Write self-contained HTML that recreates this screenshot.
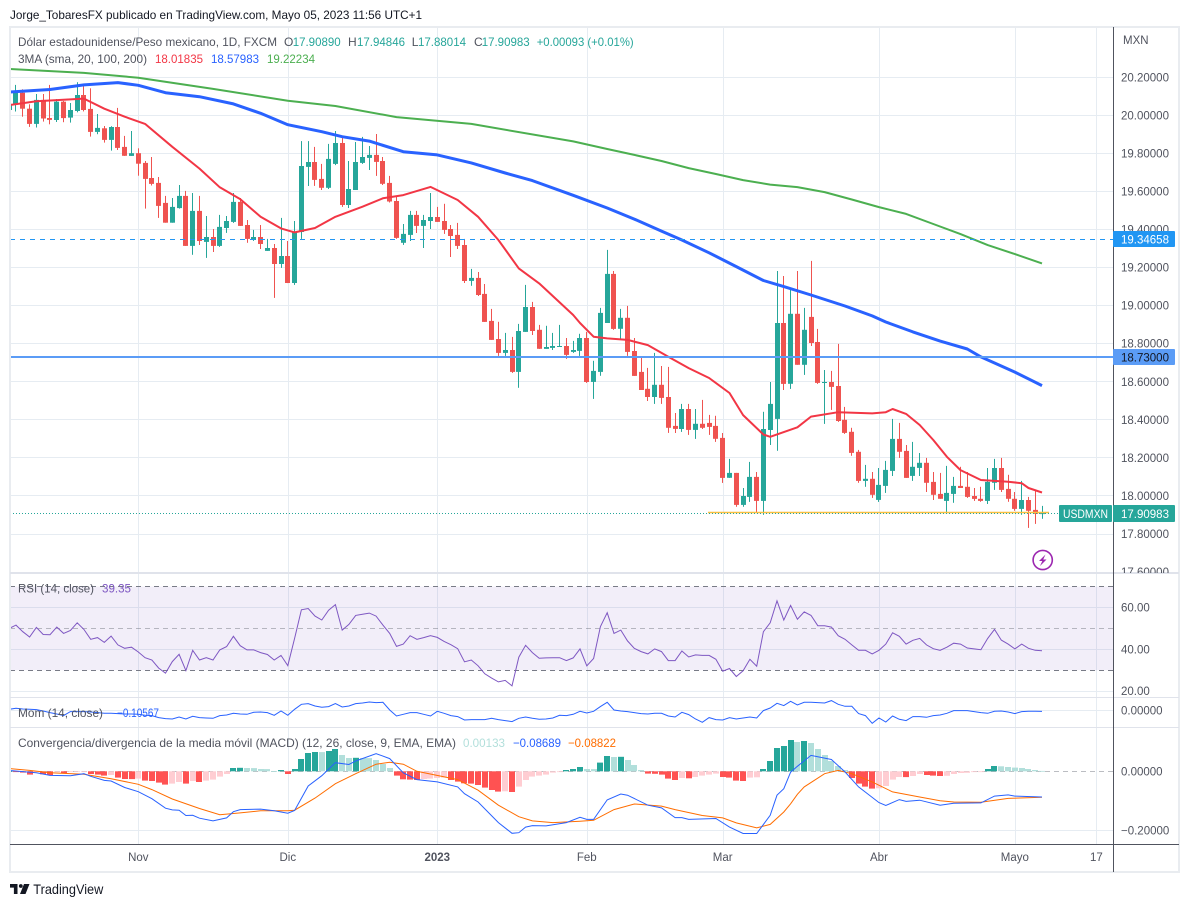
<!DOCTYPE html>
<html lang="es">
<head>
<meta charset="utf-8">
<title>USDMXN chart</title>
<style>
html,body{margin:0;padding:0;background:#fff;}
svg{display:block;font-family:"Liberation Sans",sans-serif;}
</style>
</head>
<body>
<svg id="chart" xmlns="http://www.w3.org/2000/svg" width="1189" height="907" viewBox="0 0 1189 907">
<defs>
<clipPath id="clip-main"><rect x="10" y="27" width="1103" height="546"/></clipPath>
<clipPath id="clip-main-axis"><rect x="1114" y="27" width="65" height="546"/></clipPath>
<clipPath id="clip-rsi"><rect x="10" y="574" width="1103" height="123"/></clipPath>
<clipPath id="clip-mom"><rect x="10" y="698" width="1103" height="29"/></clipPath>
<clipPath id="clip-macd"><rect x="10" y="728" width="1103" height="116"/></clipPath>
</defs>
<rect x="0" y="0" width="1189" height="907" fill="#ffffff"/>
<text x="10" y="19" font-size="12" fill="#131722" textLength="412" lengthAdjust="spacingAndGlyphs">Jorge_TobaresFX publicado en TradingView.com, Mayo 05, 2023 11:56 UTC+1</text>
<g id="grid"></g>
<g id="price-pane" clip-path="url(#clip-main)"></g>
<g id="rsi-pane" clip-path="url(#clip-rsi)"></g>
<g id="mom-pane" clip-path="url(#clip-mom)"></g>
<g id="macd-pane" clip-path="url(#clip-macd)"></g>
<g id="frame" fill="none">
<rect x="10" y="27" width="1169" height="845" stroke="#e9ecf0" stroke-width="2"/>
<line x1="10" x2="1179" y1="573" y2="573" stroke="#e0e3eb" stroke-width="2"/>
<line x1="10" x2="1179" y1="697.5" y2="697.5" stroke="#e0e3eb" stroke-width="1"/>
<line x1="10" x2="1179" y1="727.5" y2="727.5" stroke="#e0e3eb" stroke-width="1"/>
<line x1="1113.5" x2="1113.5" y1="27" y2="872" stroke="#50535e" stroke-width="1"/>
<line x1="10" x2="1179" y1="844.5" y2="844.5" stroke="#50535e" stroke-width="1"/>
</g>
<g id="axis-labels" font-size="11.5" fill="#50535e"></g>
<text x="1123" y="44" font-size="11.5" fill="#50535e">MXN</text>

<g>
<rect x="1113" y="231" width="62" height="16" rx="1" fill="#2196f3"/>
<text x="1121" y="243.5" font-size="11.5" fill="#ffffff">19.34658</text>
</g>
<g>
<rect x="1113" y="349" width="62" height="16" rx="1" fill="#5b9cf6"/>
<text x="1121" y="361.5" font-size="11.5" fill="#131722">18.73000</text>
</g>
<g>
<rect x="1059" y="505" width="53" height="17" rx="1" fill="#26a69a"/>
<text x="1063" y="518" font-size="11.5" fill="#ffffff" textLength="45" lengthAdjust="spacingAndGlyphs">USDMXN</text>
<rect x="1113" y="505" width="62" height="17" rx="1" fill="#26a69a"/>
<text x="1121" y="518" font-size="11.5" fill="#ffffff">17.90983</text>
</g>
<g>
<circle cx="1042.7" cy="560" r="9.6" fill="#ffffff" stroke="#9c27b0" stroke-width="1.6"/>
<polygon points="1045.5,554.5 1039,561 1042.3,561 1040,566 1046.5,559.5 1043.2,559.5" fill="#9c27b0"/>
</g>

<g font-size="12" fill="#50535e">
<text x="18" y="46" textLength="259" lengthAdjust="spacingAndGlyphs">Dólar estadounidense/Peso mexicano, 1D, FXCM</text>
<text x="284" y="46">O</text>
<text x="292.7" y="46" fill="#26a69a" textLength="48" lengthAdjust="spacingAndGlyphs">17.90890</text>
<text x="348" y="46">H</text>
<text x="357" y="46" fill="#26a69a" textLength="48" lengthAdjust="spacingAndGlyphs">17.94846</text>
<text x="411.7" y="46">L</text>
<text x="418" y="46" fill="#26a69a" textLength="48" lengthAdjust="spacingAndGlyphs">17.88014</text>
<text x="474" y="46">C</text>
<text x="481.7" y="46" fill="#26a69a" textLength="48" lengthAdjust="spacingAndGlyphs">17.90983</text>
<text x="536.7" y="46" fill="#26a69a" textLength="97" lengthAdjust="spacingAndGlyphs">+0.00093 (+0.01%)</text>
<text x="18" y="63" textLength="129" lengthAdjust="spacingAndGlyphs">3MA (sma, 20, 100, 200)</text>
<text x="155" y="63" fill="#f23645" textLength="48" lengthAdjust="spacingAndGlyphs">18.01835</text>
<text x="211" y="63" fill="#2962ff" textLength="48" lengthAdjust="spacingAndGlyphs">18.57983</text>
<text x="267" y="63" fill="#4caf50" textLength="48" lengthAdjust="spacingAndGlyphs">19.22234</text>
</g>
<g font-size="12" fill="#50535e">
<text x="18" y="592.5" textLength="76" lengthAdjust="spacingAndGlyphs">RSI (14, close)</text>
<text x="102" y="592.5" fill="#7e57c2" textLength="29" lengthAdjust="spacingAndGlyphs">39.35</text>
</g>
<g font-size="12" fill="#50535e">
<text x="18" y="717" textLength="85" lengthAdjust="spacingAndGlyphs">Mom (14, close)</text>
<text x="117" y="717" fill="#2962ff" textLength="42" lengthAdjust="spacingAndGlyphs">−0.10567</text>
</g>
<g font-size="12" fill="#50535e">
<text x="18" y="747" textLength="438" lengthAdjust="spacingAndGlyphs">Convergencia/divergencia de la media móvil (MACD) (12, 26, close, 9, EMA, EMA)</text>
<text x="463" y="747" fill="#b2dfdb" textLength="42" lengthAdjust="spacingAndGlyphs">0.00133</text>
<text x="513" y="747" fill="#2962ff" textLength="48" lengthAdjust="spacingAndGlyphs">−0.08689</text>
<text x="568" y="747" fill="#ff6d00" textLength="48" lengthAdjust="spacingAndGlyphs">−0.08822</text>
</g>
<g>
<path d="M10 884h7.5v10h-3.6v-6.4H10zM24 884h5.5l-4 10h-5.5z" fill="#131722"/>
<circle cx="20.8" cy="886" r="1.9" fill="#131722"/>
<text x="33.3" y="894" font-size="14" fill="#131722" textLength="70" lengthAdjust="spacingAndGlyphs">TradingView</text>
</g>
</svg>
<script>
const opens=[20.028,20.060,20.119,20.035,19.955,20.081,19.986,19.976,20.072,19.988,
20.023,20.107,20.034,19.913,19.932,19.871,19.939,19.834,19.787,19.801,
19.750,19.671,19.645,19.540,19.436,19.513,19.577,19.314,19.498,19.335,
19.361,19.314,19.408,19.440,19.545,19.424,19.345,19.361,19.288,19.303,
19.219,19.261,19.119,19.387,19.729,19.755,19.666,19.619,19.745,19.855,
19.529,19.608,19.750,19.776,19.792,19.760,19.645,19.550,19.330,19.372,
19.477,19.419,19.445,19.466,19.445,19.403,19.372,19.319,19.130,19.146,
19.062,18.920,18.825,18.752,18.767,18.652,18.862,18.993,18.873,18.773,
18.778,18.783,18.788,18.757,18.762,18.830,18.599,18.652,18.909,19.167,
18.878,18.936,18.762,18.652,18.563,18.520,18.584,18.520,18.368,18.352,
18.457,18.347,18.379,18.384,18.368,18.305,18.095,18.121,17.953,17.995,
18.100,17.974,18.347,18.405,18.909,18.589,18.957,18.689,18.941,18.809,
18.594,18.599,18.578,18.400,18.337,18.232,18.079,18.090,17.979,18.053,
18.132,18.300,18.237,18.105,18.147,18.174,18.074,18.011,17.974,18.011,
18.053,18.048,18.000,17.985,17.974,18.069,18.147,18.037,17.985,17.932,
17.979,17.927,17.909];
const closes=[20.060,20.119,20.035,19.955,20.081,19.983,19.976,20.072,19.986,20.028,
20.107,20.028,19.913,19.934,19.871,19.939,19.829,19.787,19.801,19.746,
19.666,19.640,19.524,19.436,19.519,19.577,19.314,19.498,19.340,19.361,
19.314,19.414,19.445,19.545,19.419,19.351,19.361,19.324,19.303,19.219,
19.261,19.119,19.387,19.734,19.755,19.661,19.619,19.771,19.855,19.529,
19.613,19.755,19.781,19.792,19.755,19.640,19.547,19.356,19.377,19.477,
19.419,19.450,19.466,19.440,19.398,19.366,19.314,19.130,19.146,19.056,
18.915,18.820,18.752,18.767,18.652,18.867,18.993,18.867,18.773,18.783,
18.788,18.788,18.741,18.767,18.830,18.599,18.657,18.962,19.167,18.878,
18.936,18.757,18.631,18.557,18.520,18.584,18.515,18.358,18.352,18.457,
18.347,18.379,18.358,18.363,18.300,18.095,18.121,17.953,18.000,18.100,
17.974,18.352,18.484,18.909,18.589,18.957,18.689,18.873,18.804,18.594,
18.599,18.573,18.394,18.331,18.226,18.079,18.090,18.006,18.058,18.137,
18.300,18.232,18.095,18.153,18.174,18.069,18.006,17.985,18.016,18.053,
18.042,17.995,17.985,17.974,18.074,18.147,18.032,17.985,17.932,17.979,
17.922,17.906,17.910];
const highs=[20.063,20.160,20.137,20.058,20.112,20.112,20.160,20.086,20.076,20.065,
20.174,20.160,20.142,20.007,19.944,19.943,20.039,19.892,19.918,19.827,
19.760,19.781,19.676,19.577,19.566,19.634,19.603,19.592,19.577,19.471,
19.403,19.477,19.471,19.592,19.566,19.450,19.398,19.424,19.351,19.324,
19.461,19.340,19.445,19.865,19.865,19.834,19.745,19.850,19.918,19.887,
19.760,19.860,19.887,19.839,19.902,19.781,19.682,19.573,19.429,19.498,
19.498,19.477,19.592,19.519,19.535,19.424,19.435,19.351,19.193,19.177,
19.114,18.983,18.915,18.857,18.836,18.904,19.109,19.020,18.899,18.894,
18.857,18.899,18.830,18.815,18.852,18.862,18.710,18.988,19.293,19.182,
18.983,18.999,18.830,18.725,18.673,18.752,18.683,18.678,18.436,18.484,
18.484,18.457,18.505,18.426,18.421,18.331,18.195,18.121,18.042,18.179,
18.126,18.442,18.599,19.182,19.156,19.093,19.182,18.988,19.235,18.878,
18.662,18.657,18.799,18.468,18.358,18.242,18.163,18.126,18.147,18.184,
18.405,18.384,18.268,18.284,18.226,18.200,18.126,18.121,18.158,18.100,
18.153,18.126,18.042,18.048,18.147,18.195,18.200,18.111,18.021,18.079,
17.995,18.027,17.948];
const lows=[19.962,20.020,19.993,19.939,19.936,19.967,19.953,19.965,19.964,19.962,
20.016,20.021,19.888,19.901,19.857,19.815,19.818,19.787,19.787,19.683,
19.510,19.631,19.461,19.436,19.436,19.510,19.314,19.267,19.319,19.251,
19.282,19.309,19.382,19.435,19.419,19.330,19.340,19.298,19.288,19.041,
19.198,19.119,19.109,19.351,19.629,19.629,19.608,19.613,19.739,19.519,
19.513,19.608,19.745,19.713,19.682,19.634,19.542,19.351,19.319,19.340,
19.382,19.303,19.403,19.440,19.377,19.256,19.298,19.119,19.104,19.051,
18.915,18.820,18.736,18.736,18.647,18.568,18.862,18.846,18.773,18.773,
18.767,18.783,18.720,18.752,18.736,18.594,18.510,18.631,18.909,18.873,
18.825,18.736,18.631,18.557,18.499,18.484,18.484,18.331,18.331,18.337,
18.321,18.300,18.352,18.321,18.284,18.069,18.095,17.943,17.943,17.969,
17.911,17.901,18.268,18.237,18.557,18.563,18.689,18.636,18.788,18.589,
18.379,18.452,18.389,18.326,18.211,18.069,18.048,17.990,17.969,18.016,
18.105,18.200,18.095,18.079,18.105,18.021,17.979,17.985,17.916,17.964,
18.042,17.990,17.974,17.969,17.958,18.032,18.021,17.969,17.922,17.901,
17.832,17.853,17.880];

const ma20Bars=[0,4,11,14,17,20,24,28,31,34,37,40,42,45,48,52,55,58,62,66,69,72,75,78,83,84,86,88,91,94,97,100,103,106,108,111,112,116,118,122,127,129,130,132,134,136,138,140,143,147,149,150,152];
const ma20=[20.054,20.074,20.088,20.035,19.993,19.955,19.835,19.720,19.622,19.560,
19.467,19.406,19.385,19.408,19.467,19.520,19.564,19.581,19.624,19.555,
19.467,19.345,19.196,19.117,18.951,18.909,18.837,18.828,18.820,18.793,
18.732,18.672,18.620,18.541,18.425,18.323,18.311,18.361,18.417,18.440,
18.434,18.440,18.457,18.431,18.373,18.294,18.206,18.136,18.084,18.075,
18.067,18.042,18.018];
const ma100Bars=[0,6,11,16,19,23,28,33,37,41,46,49,53,58,63,68,73,77,83,88,92,96,99,103,107,111,114,118,123,127,129,133,137,141,143,148,152];
const ma100=[20.123,20.136,20.160,20.172,20.158,20.119,20.098,20.060,20.011,19.951,
19.914,19.888,19.865,19.809,19.792,19.750,19.697,19.657,19.580,19.513,
19.455,19.392,19.345,19.278,19.205,19.132,19.100,19.056,18.998,18.946,
18.914,18.862,18.814,18.772,18.731,18.651,18.580];
const ma200Bars=[0,11,19,30,41,48,57,68,83,88,92,96,100,104,108,112,116,120,124,128,132,136,140,144,148,152];
const ma200=[20.244,20.223,20.198,20.139,20.077,20.049,19.991,19.955,19.863,19.823,
19.792,19.760,19.723,19.692,19.660,19.636,19.623,19.597,19.558,19.518,
19.482,19.429,19.376,19.318,19.271,19.222];
const macdLineBars=[0,2,4,6,9,11,12,14,15,17,19,21,23,24,25,26,27,28,30,32,33,34,37,39,41,42,44,46,48,50,51,54,56,58,60,63,66,67,69,72,74,75,76,77,79,82,84,85,86,88,90,91,94,96,98,99,100,104,106,108,110,112,113,114,115,116,118,121,123,125,128,129,131,132,134,137,139,143,145,147,148,152];
const macdLine=[0.003,-0.001,-0.005,-0.014,-0.015,-0.008,-0.017,-0.031,-0.033,-0.055,-0.069,-0.093,-0.125,-0.131,-0.132,-0.150,-0.149,-0.159,-0.168,-0.158,-0.137,-0.130,-0.128,-0.134,-0.142,-0.133,-0.050,-0.015,0.029,0.023,0.035,0.060,0.043,-0.005,-0.028,-0.036,-0.053,-0.076,-0.104,-0.174,-0.210,-0.208,-0.189,-0.184,-0.185,-0.174,-0.156,-0.163,-0.163,-0.097,-0.077,-0.081,-0.115,-0.124,-0.157,-0.157,-0.163,-0.160,-0.189,-0.211,-0.211,-0.149,-0.081,-0.059,-0.003,0.017,0.054,0.040,-0.002,-0.053,-0.106,-0.116,-0.096,-0.102,-0.098,-0.115,-0.108,-0.107,-0.084,-0.080,-0.084,-0.087];
const macdSignalBars=[0,3,6,11,15,19,21,24,28,31,34,37,41,42,45,48,51,54,56,58,60,66,69,72,75,77,80,84,86,89,92,96,98,102,105,107,110,112,114,115,116,117,120,122,124,127,130,134,137,139,143,147,152];
const macdSignal=[0.009,0.003,-0.005,-0.010,-0.025,-0.044,-0.062,-0.094,-0.126,-0.147,-0.141,-0.134,-0.134,-0.132,-0.091,-0.042,-0.008,0.024,0.031,0.024,0,-0.028,-0.064,-0.115,-0.154,-0.168,-0.174,-0.169,-0.166,-0.130,-0.111,-0.118,-0.130,-0.150,-0.158,-0.175,-0.192,-0.180,-0.138,-0.110,-0.078,-0.053,-0.008,0.003,-0.008,-0.036,-0.070,-0.087,-0.100,-0.104,-0.105,-0.092,-0.088];
const macdHist=[0.0006,-0.0011,-0.0045,-0.0113,-0.0023,-0.0102,-0.0124,-0.0023,-0.0068,-0.0023,
-0.0011,-0.0006,-0.0090,-0.0113,-0.0147,-0.0124,-0.0215,-0.0260,-0.0266,-0.0249,
-0.0316,-0.0328,-0.0384,-0.0452,-0.0418,-0.0362,-0.0418,-0.0328,-0.0362,-0.0316,
-0.0282,-0.0181,-0.0090,0.0113,0.0119,0.0113,0.0107,0.0079,0.0073,0.0011,
0.0045,-0.0090,0.0079,0.0418,0.0621,0.0655,0.0650,0.0689,0.0757,0.0554,
0.0452,0.0458,0.0452,0.0446,0.0384,0.0249,0.0113,-0.0147,-0.0271,-0.0282,
-0.0294,-0.0260,-0.0249,-0.0226,-0.0215,-0.0294,-0.0350,-0.0407,-0.0418,-0.0463,
-0.0554,-0.0633,-0.0689,-0.0678,-0.0701,-0.0520,-0.0294,-0.0181,-0.0147,-0.0113,
-0.0045,-0.0011,0.0045,0.0079,0.0147,0.0079,0.0073,0.0294,0.0520,0.0486,
0.0492,0.0384,0.0215,0.0045,-0.0079,-0.0085,-0.0113,-0.0249,-0.0294,-0.0226,
-0.0237,-0.0192,-0.0147,-0.0113,-0.0079,-0.0192,-0.0215,-0.0316,-0.0328,-0.0215,
-0.0203,0.0079,0.0350,0.0791,0.0859,0.1062,0.0994,0.1028,0.0960,0.0757,
0.0554,0.0350,0.0181,0.0045,-0.0226,-0.0418,-0.0520,-0.0588,-0.0576,-0.0497,
-0.0282,-0.0192,-0.0198,-0.0158,-0.0090,-0.0124,-0.0147,-0.0158,-0.0153,-0.0090,
-0.0056,-0.0051,-0.0023,-0.0011,0.0079,0.0181,0.0169,0.0147,0.0124,0.0113,
0.0079,0.0045,0.0013];
const rsiValues=[50.0,51.6,48.4,45.9,50.5,47.1,47.0,50.6,47.6,49.0,
52.7,49.5,44.8,45.6,43.3,46.3,42.1,40.5,41.0,38.7,
36.0,34.9,31.0,28.6,34.1,37.6,29.8,39.5,34.9,36.0,
34.9,39.7,41.3,46.2,41.7,39.7,39.7,38.4,37.5,34.9,
37.1,32.2,45.2,58.9,59.5,55.9,54.0,58.7,61.4,49.2,
51.9,56.2,56.8,57.3,55.9,51.6,47.6,41.4,42.5,46.5,
44.8,45.6,46.5,45.7,43.8,42.2,40.3,34.0,34.9,32.1,
28.3,26.2,24.4,25.1,22.5,36.2,41.9,38.4,35.7,35.9,
36.0,36.0,34.6,35.9,40.2,32.1,35.6,50.8,57.5,47.6,
49.2,44.0,40.5,38.9,37.8,40.2,38.9,34.6,34.6,39.2,
36.3,37.3,37.1,37.1,35.2,29.5,30.8,27.0,29.7,35.2,
31.9,48.4,52.7,63.2,54.0,61.0,54.4,57.9,56.2,51.3,
51.3,50.6,46.5,44.8,42.1,39.5,39.5,37.8,39.5,42.5,
47.9,46.2,42.5,44.3,45.2,42.1,40.3,39.5,41.0,42.9,
42.5,40.6,40.2,39.8,45.2,49.5,44.4,42.5,40.2,42.5,
40.5,39.5,39.35];
const momValues=[0.10,0.20,0.13,0.10,0.07,-0.07,-0.23,-0.37,-0.53,-0.13,
-0.13,-0.13,-0.17,-0.23,-0.30,-0.30,-0.33,-0.37,-0.37,-0.40,
-0.50,-0.53,-0.73,-0.83,-0.87,-0.67,-0.87,-0.60,-0.73,-0.77,
-0.80,-0.53,-0.47,-0.30,-0.37,-0.40,-0.20,-0.17,-0.23,-0.50,
-0.07,-0.50,0.10,0.60,0.67,0.43,0.30,0.37,0.67,0.33,
0.43,0.67,0.73,0.83,0.77,0.80,0.03,-0.57,-0.40,-0.23,
-0.23,-0.40,-0.57,-0.10,-0.30,-0.53,-0.63,-0.97,-0.93,-0.93,
-0.93,-0.80,-0.93,-1.03,-1.13,-0.80,-0.67,-0.80,-0.90,-0.87,
-0.77,-0.50,-0.53,-0.40,-0.10,-0.27,-0.10,0.37,0.80,0.03,
-0.07,-0.13,-0.23,-0.33,-0.37,-0.30,-0.30,-0.57,-0.67,-0.20,
-0.43,-0.87,-1.20,-0.73,-0.93,-0.97,-0.73,-0.87,-0.77,-0.67,
-0.77,-0.03,0.23,0.70,0.47,0.90,0.53,0.80,0.80,0.77,
0.73,0.97,0.60,0.40,0.40,-0.33,-0.53,-1.30,-0.77,-1.17,
-0.57,-0.90,-1.03,-0.63,-0.63,-0.70,-0.53,-0.47,-0.30,-0.03,
-0.03,-0.03,-0.13,-0.23,-0.30,-0.10,-0.07,-0.17,-0.33,-0.13,
-0.10,-0.10,-0.106];

const priceTicks=[20.2,20.0,19.8,19.6,19.4,19.2,19.0,18.8,18.6,18.4,18.2,18.0,17.8,17.6];
const rsiTicks=[60,40,20];
const momTicks=[0];
const macdTicks=[0,-0.2];
const rsiBands=[70,50,30];
const timeTickBars=[19,41,63,85,105,128,148,160];
const timeTickLabels=["Nov","Dic","2023","Feb","Mar","Abr","Mayo","17"];
const alertLevel=19.34658;
const horizontalLevel=18.73;
const lastClose=17.90983;

const SVGNS="http://www.w3.org/2000/svg";
const xOf=i=>9.2+6.795*i;
const yPrice=p=>77.3+(20.2-p)*190.3;
const yRsi=v=>649.3+(40-v)*2.09;
const yMom=v=>710.3-v*10;
const yMacd=v=>771.3-v*295;
const crisp=y=>Math.floor(y)+0.5;
function make(tag,attrs,parent){
  const el=document.createElementNS(SVGNS,tag);
  for(const k in attrs){el.setAttribute(k,attrs[k]);}
  parent.appendChild(el);
  return el;
}
function linePoints(bars,vals,yFn){
  return vals.map((v,k)=>xOf(bars[k]).toFixed(1)+","+yFn(v).toFixed(1)).join(" ");
}
const allBars=closes.map((_,i)=>i);
const grid=document.getElementById("grid");
const pricePane=document.getElementById("price-pane");
const rsiPane=document.getElementById("rsi-pane");
const momPane=document.getElementById("mom-pane");
const macdPane=document.getElementById("macd-pane");
const axisLabels=document.getElementById("axis-labels");
const GRID="#e6ecf2";

timeTickBars.forEach((b,k)=>{
  const gx=Math.round(xOf(b))+0.5;
  const v=make("line",{x1:gx,x2:gx,y1:27,y2:844,stroke:GRID,"stroke-width":1},grid);
  
  
  const t=make("text",{x:xOf(b),y:861,"text-anchor":"middle","font-weight":timeTickLabels[k]==="2023"?"700":"400"},axisLabels);
  t.textContent=timeTickLabels[k];
  
  
});
function hGrid(y){
  const l=make("line",{x1:10,x2:1113,y1:crisp(y),y2:crisp(y),stroke:GRID,"stroke-width":1},grid);
  
  
}
function tickLabel(text,y,clip){
  const t=make("text",{x:1121,y:y+4},axisLabels);
  if(clip){t.setAttribute("clip-path",clip);}
  t.textContent=text;
  
  
}
priceTicks.forEach(p=>{hGrid(yPrice(p));tickLabel(p.toFixed(5),yPrice(p),"url(#clip-main-axis)");});
rsiTicks.forEach(v=>{hGrid(yRsi(v));tickLabel(v.toFixed(2),yRsi(v));});
momTicks.forEach(v=>{hGrid(yMom(v));tickLabel(v.toFixed(5),yMom(v));});
macdTicks.forEach(v=>{
  if(v!==0){hGrid(yMacd(v));}
  tickLabel((v<0?"\u2212":"")+Math.abs(v).toFixed(5),yMacd(v));
});

/* candles */
closes.forEach((c,i)=>{
  const o=opens[i];
  const col=c>=o?"#26a69a":"#ef5350";
  const left=Math.round(xOf(i)-2.5);
  const g=make("g",{},pricePane);
  
  
  const wTop=yPrice(highs[i]),wBot=yPrice(lows[i]);
  make("rect",{x:left+2,y:wTop.toFixed(1),width:1,height:Math.max(1,wBot-wTop).toFixed(1),fill:col},g);
  const bTop=yPrice(Math.max(o,c)),bBot=yPrice(Math.min(o,c));
  make("rect",{x:left,y:bTop.toFixed(1),width:5,height:Math.max(1,bBot-bTop).toFixed(1),fill:col},g);
});
/* moving averages */
const ma200Line=make("polyline",{points:linePoints(ma200Bars,ma200,yPrice),fill:"none",stroke:"#4caf50","stroke-width":2,"stroke-linejoin":"round"},pricePane);


const ma100Line=make("polyline",{points:linePoints(ma100Bars,ma100,yPrice),fill:"none",stroke:"#2962ff","stroke-width":3,"stroke-linejoin":"round"},pricePane);


const ma20Line=make("polyline",{points:linePoints(ma20Bars,ma20,yPrice),fill:"none",stroke:"#f23645","stroke-width":2,"stroke-linejoin":"round"},pricePane);


/* level lines */
const alertLine=make("line",{x1:10,x2:1113,y1:crisp(yPrice(alertLevel)),y2:crisp(yPrice(alertLevel)),stroke:"#2196f3","stroke-width":1,"stroke-dasharray":"5 5"},pricePane);


const levelLine=make("line",{x1:10,x2:1113,y1:yPrice(horizontalLevel),y2:yPrice(horizontalLevel),stroke:"#5b9cf6","stroke-width":2},pricePane);


const orangeLine=make("line",{x1:708,x2:1049,y1:yPrice(lastClose)-0.6,y2:yPrice(lastClose)-0.6,stroke:"#f9c040","stroke-width":1.5},pricePane);


const lastLine=make("line",{x1:10,x2:1113,y1:crisp(yPrice(lastClose)),y2:crisp(yPrice(lastClose)),stroke:"#26a69a","stroke-width":1,"stroke-dasharray":"1 2"},pricePane);



/* RSI */
const band=make("rect",{x:10,y:yRsi(rsiBands[0]),width:1103,height:yRsi(rsiBands[2])-yRsi(rsiBands[0]),fill:"#7e57c2","fill-opacity":0.1},rsiPane);


rsiBands.forEach(v=>{
  const l=make("line",{x1:10,x2:1113,y1:crisp(yRsi(v)),y2:crisp(yRsi(v)),stroke:"#787b86","stroke-width":1,"stroke-dasharray":"5 4","stroke-opacity":v===50?0.5:1},rsiPane);
  
  
});
const rsiLine=make("polyline",{points:linePoints(allBars,rsiValues,yRsi),fill:"none",stroke:"#7e57c2","stroke-width":1},rsiPane);



/* Momentum */
const momLine=make("polyline",{points:linePoints(allBars,momValues,yMom),fill:"none",stroke:"#2962ff","stroke-width":1},momPane);



/* MACD */
const zero=make("line",{x1:10,x2:1113,y1:crisp(yMacd(0)),y2:crisp(yMacd(0)),stroke:"#787b86","stroke-opacity":0.5,"stroke-width":1,"stroke-dasharray":"5 4"},macdPane);


macdHist.forEach((v,i)=>{
  const prev=i>0?macdHist[i-1]:0;
  let col;
  if(v>=0){col=v>prev?"#26a69a":"#b2dfdb";}else{col=v<prev?"#ff5252":"#ffcdd2";}
  const yA=yMacd(Math.max(v,0)),yB=yMacd(Math.min(v,0));
  const bar=make("rect",{x:Math.round(xOf(i)-3),y:yA.toFixed(1),width:6,height:Math.max(0.8,yB-yA).toFixed(1),fill:col},macdPane);
  
  
});
const signalLine=make("polyline",{points:linePoints(macdSignalBars,macdSignal,yMacd),fill:"none",stroke:"#ff6d00","stroke-width":1},macdPane);


const macdMain=make("polyline",{points:linePoints(macdLineBars,macdLine,yMacd),fill:"none",stroke:"#2962ff","stroke-width":1},macdPane);


</script>
</body>
</html>
